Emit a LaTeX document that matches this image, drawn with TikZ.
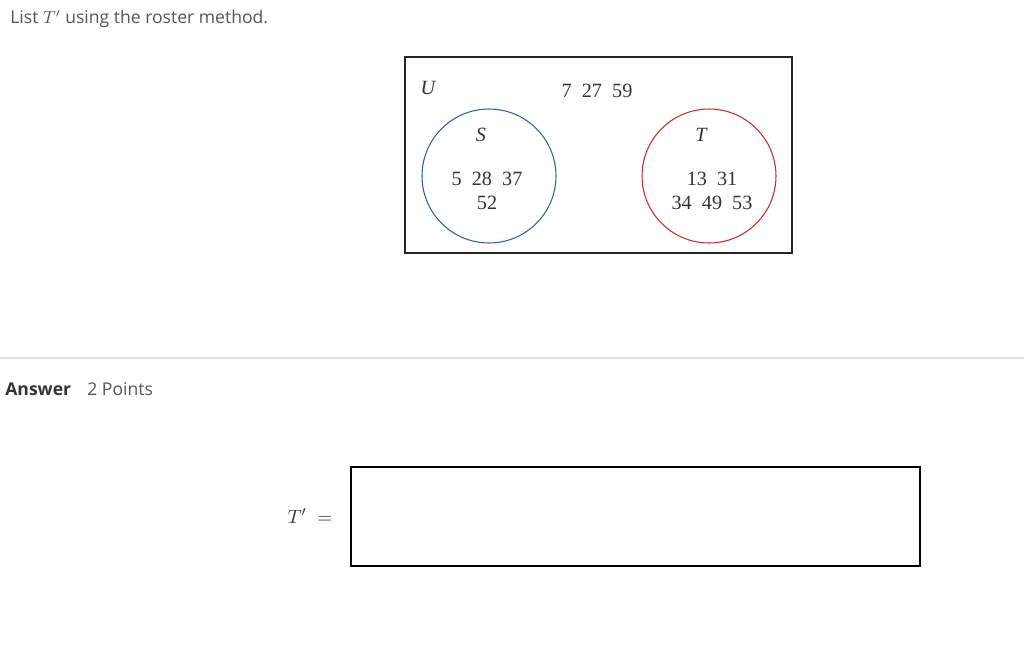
\documentclass[tikz,border=0pt]{standalone}
\usepackage{fontspec}
\usepackage{tikz}
\usetikzlibrary{positioning}
\newfontfamily\uifont{Open Sans}
\newfontfamily\vennfont{Liberation Serif}
\definecolor{uigray}{HTML}{555555}
\definecolor{venntext}{HTML}{333333}
\definecolor{setblue}{HTML}{2F5FA0}
\definecolor{setred}{HTML}{C0302A}
\tikzset{
  uitext/.style={inner sep=0pt,anchor=west,font=\uifont\fontsize{10}{12}\selectfont,text=uigray},
  venntxt/.style={inner sep=0pt,font=\vennfont\fontsize{11.5}{14}\selectfont,text=venntext,align=center},
  setlabel/.style={venntxt,font=\vennfont\itshape\fontsize{11.5}{14}\selectfont},
  setcircle/.style={circle,draw,line width=0.6pt,minimum size=2.68cm,inner sep=0pt}
}

\begin{document}
\begin{tikzpicture}[x=0.02cm,y=-0.02cm]
                \useasboundingbox (0,0) rectangle (1024,646);

                % question
                \node[uitext] (question) at (10,19) {List $T'$ using the roster method.};

                % universe and the two sets
                \draw[line width=0.6pt,black!85] (405,57) rectangle (792,253);
                \coordinate (univ) at (405,57);
                \node[setlabel] (labU) at (428,88) {U};
                \node[venntxt] (outside) at (597,91) {7\enspace 27\enspace 59};

                \node[setcircle,setblue] (setS) at (489,176) {};
                \node[setcircle,setred] (setT) at (709,176) {};

                \node[setlabel] (labS) at (481,135) {S};
                \node[setlabel] (labT) at (701,135) {T};
                \node[venntxt] (elemS) at (487,191) {5\enspace 28\enspace 37\\52};
                \node[venntxt] (elemT) at (712,191) {13\enspace 31\\34\enspace 49\enspace 53};

                % answer part
                \draw[black!12,line width=0.8pt] (0,358) -- (1024,358);
                \node[uitext,text=black!80,font=\uifont\bfseries\fontsize{10}{12}\selectfont] (answer) at (5,389) {Answer};
                \node[uitext] (points) at (87,389) {2 Points};

                \node[inner sep=0pt,font=\fontsize{11}{13}\selectfont,text=venntext] (lhs) at (310,516) {$T'\;=$};
                \draw[black!15,line width=1.4pt] (351,467) rectangle (920,566);
                \draw[black,line width=0.6pt] (351,467) rectangle (920,566);
                \coordinate (box) at (351,467);
\end{tikzpicture}
\end{document}
